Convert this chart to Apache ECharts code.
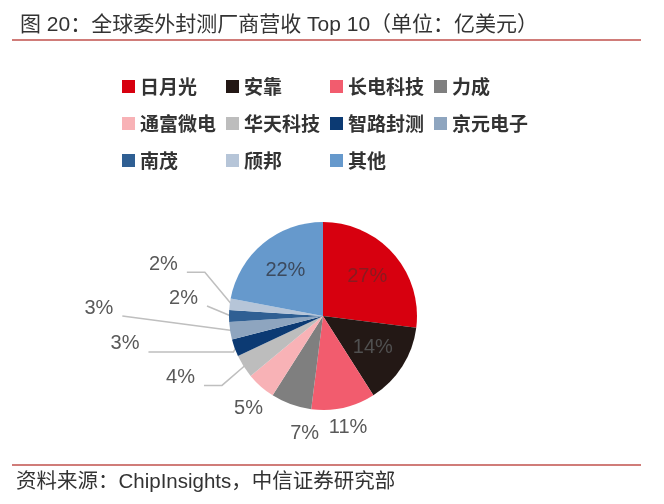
<!DOCTYPE html>
<html>
<head>
<meta charset="utf-8">
<style>
  html, body { margin: 0; padding: 0; background: #fff; }
  #chart { width: 664px; height: 504px; }
</style>
<script src="https://cdn.jsdelivr.net/npm/echarts@6/dist/echarts.min.js"></script>
</head>
<body>
<div id="chart"></div>
<script>
// 厂商名称
var names = ['日月光', '安靠', '长电科技', '力成', '通富微电', '华天科技', '智路封测', '京元电子', '南茂', '颀邦', '其他']
// 营收占比 (%)
var shares = [27, 14, 11, 7, 5, 4, 3, 3, 2, 2, 22]

var colors = ['#d7000f', '#231815', '#f25c6e', '#7f7f7f', '#f8b2b6', '#bdbdbd', '#0c3a73', '#8ea5bf', '#2f5f93', '#b6c5d8', '#6699cc']
// 大块用内部标签
var insideIdx = [0, 1, 10]
var insideColor = { 0: '#8a1a20', 1: '#505050', 10: '#3c4a5e' }
// 外部标签：引线是否显示、默认引线长度、折线水平段、标签偏移
var lineShow = [false, false, false, false, false, true, true, true, true, true, false]
var baseLen2 = [10, 10, 10, 10, 10, 14, 85, 5, 5, 20, 10]
var lineLen2 = [0, 0, 0, 0, 0, 18, 85, 0, 0, 18, 0]
var offX = [0, 0, -33, 48, 27, -17, 9, -92, -6, -12, 0]
var offY = [0, 0, 5, 15, 11, 3, -9, -25, -18, -38, 0]

var font = '"Liberation Sans", "Noto Sans CJK SC", sans-serif'
var cjk = '"Noto Sans CJK SC", "Noto Sans", sans-serif'
var pieCenter = [323, 316]
var pieRadius = 94
var total = shares.reduce(function (a, b) { return a + b }, 0)

var data = names.map(function (n, i) {
    var item = { name: n, value: shares[i], itemStyle: { color: colors[i] } }
    if (insideIdx.indexOf(i) > -1) {
        item.label = { position: 'inside', color: insideColor[i] }
        item.labelLine = { show: false }
    } else {
        item.label = { position: 'outside' }
        item.labelLine = { show: lineShow[i], length: 15, length2: baseLen2[i] }
    }
    return item
})

// 扇区中线角度
var midAngles = []
var acc = 0
shares.forEach(function (v) {
    midAngles.push((acc + v / 2) / total * Math.PI * 2)
    acc += v
})

var chart = echarts.init(document.getElementById('chart'))
var option = {
    backgroundColor: '#fff',
    animation: false,
    title: {
        text: '图 20：全球委外封测厂商营收 Top 10（单位：亿美元）',
        left: 15,
        top: 10,
        textStyle: { fontFamily: font, fontSize: 21, fontWeight: 'normal', color: '#333' }
    },
    legend: {
        left: 122,
        top: 71,
        padding: 0,
        width: 420,
        itemWidth: 13,
        itemHeight: 13,
        itemGap: 6,
        icon: 'rect',
        selectedMode: false,
        data: names,
        textStyle: { fontFamily: cjk, fontSize: 19, fontWeight: 'bold', color: '#333', width: 80, lineHeight: 24, height: 31, overflow: 'truncate' }
    },
    graphic: [
        { type: 'line', shape: { x1: 12, y1: 40, x2: 641, y2: 40 }, style: { stroke: '#c0504d', lineWidth: 1.5 } },
        { type: 'line', shape: { x1: 12, y1: 465, x2: 641, y2: 465 }, style: { stroke: '#c0504d', lineWidth: 1.5 } },
        { type: 'text', left: 16, top: 472, style: { text: '资料来源：ChipInsights，中信证券研究部', font: '20.5px ' + font, fill: '#333' } }
    ],
    series: [{
        type: 'pie',
        center: pieCenter,
        radius: pieRadius,
        startAngle: 90,
        clockwise: true,
        avoidLabelOverlap: false,
        label: {
            formatter: '{c}%',
            fontFamily: font,
            fontSize: 20,
            color: '#595959'
        },
        labelLine: {
            lineStyle: { color: '#bfbfbf', width: 1.5 }
        },
        labelLayout: function (params) {
            var i = params.dataIndex
            var a = midAngles[i]
            if (insideIdx.indexOf(i) > -1) {
                return { dx: Math.sin(a) * 9, dy: -Math.cos(a) * 9 }
            }
            var res = { dx: offX[i], dy: offY[i] }
            if (lineShow[i]) {
                var r = params.labelRect
                var x0 = r.x + offX[i] + r.width + 9
                var y0 = r.y + offY[i] + r.height / 2 + 8
                var ex = pieCenter[0] + Math.sin(a) * (pieRadius - 2)
                var ey = pieCenter[1] - Math.cos(a) * (pieRadius - 2)
                res.labelLinePoints = [[x0, y0], [x0 + lineLen2[i], y0], [ex, ey]]
            }
            return res
        },
        data: data
    }]
}
chart.setOption(option)
window.addEventListener('resize', function () {
    chart.resize()
})
</script>
</body>
</html>
